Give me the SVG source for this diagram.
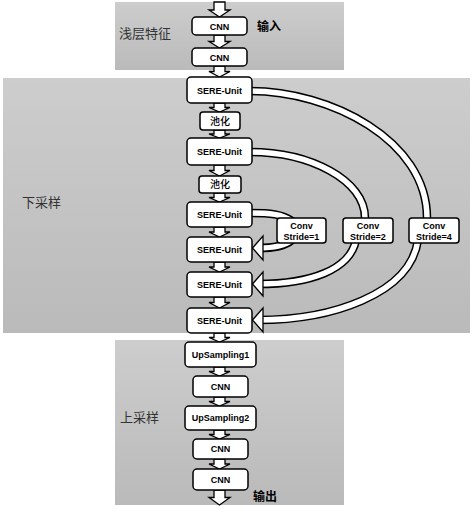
<svg xmlns="http://www.w3.org/2000/svg" xmlns:xlink="http://www.w3.org/1999/xlink" width="474" height="509" viewBox="0 0 474 509">
<style>
.panel{fill:url(#pg);}
.box{fill:#fff;stroke:#000;stroke-width:1.5;}
.t{font-family:"Liberation Sans",Arial,sans-serif;font-weight:bold;font-size:9px;fill:#000;text-anchor:middle;}
.tc{font-family:"Noto Sans CJK SC",sans-serif;font-weight:500;font-size:10px;fill:#000;text-anchor:middle;}
.lab{font-family:"Noto Sans CJK SC",sans-serif;font-size:13px;fill:#333;}
.lb{font-family:"Noto Sans CJK SC",sans-serif;font-size:12px;font-weight:bold;fill:#000;}
.ba{fill:#fff;stroke:#000;stroke-width:1.3;stroke-linejoin:miter;}
.bo{fill:none;stroke:#000;stroke-width:8.5;}
.bi{fill:none;stroke:#fff;stroke-width:5.5;}
.ah{fill:#fff;stroke:#000;stroke-width:1.3;}
</style>
<defs>
<linearGradient id="pg" x1="0" y1="0" x2="0" y2="1">
<stop offset="0" stop-color="#cdcdcd"/>
<stop offset="1" stop-color="#bababa"/>
</linearGradient>
<path id="s4a" d="M250 91 C330 91 427 140 427 218"/>
<path id="s4b" d="M418 240 C410 295 330 320 258 320"/>
<path id="s2a" d="M250 152 C310 152 365 180 365 218"/>
<path id="s2b" d="M356 240 C350 270 310 284 258 284"/>
<path id="s1a" d="M250 213 C270 213 282 214 292 221"/>
<path id="s1b" d="M292 240 C285 246 275 248 258 248"/>
</defs>

<g id="panels">
<rect id="panel-shallow" class="panel" x="115" y="2" width="229" height="68"/>
<rect id="panel-down" class="panel" x="3" y="78" width="467" height="255"/>
<rect id="panel-up" class="panel" x="115" y="340" width="229" height="165"/>
<text class="lab" x="119" y="38">浅层特征</text>
<text class="lab" x="22" y="207">下采样</text>
<text class="lab" x="120" y="422">上采样</text>
<text class="lb" x="257" y="31">输入</text>
<text class="lb" x="253" y="501">输出</text>
</g>

<g id="connectors">
<use xlink:href="#s4a" class="bo"/><use xlink:href="#s4a" class="bi"/>
<use xlink:href="#s4b" class="bo"/><use xlink:href="#s4b" class="bi"/>
<use xlink:href="#s2a" class="bo"/><use xlink:href="#s2a" class="bi"/>
<use xlink:href="#s2b" class="bo"/><use xlink:href="#s2b" class="bi"/>
<use xlink:href="#s1a" class="bo"/><use xlink:href="#s1a" class="bi"/>
<use xlink:href="#s1b" class="bo"/><use xlink:href="#s1b" class="bi"/>
<polygon class="ah" points="252.5,248 263,236 263,260"/>
<polygon class="ah" points="252.5,284 263,272 263,296"/>
<polygon class="ah" points="252.5,320 263,308 263,332"/>
<polygon class="ba" points="214,2 225,2 225,10 230,10 219.5,17 209,10 214,10"/>
<polygon class="ba" points="214,35 225,35 225,41.5 230,41.5 219.5,48 209,41.5 214,41.5"/>
<polygon class="ba" points="214,66 225,66 225,71.5 230,71.5 219.5,77 209,71.5 214,71.5"/>
<polygon class="ba" points="214,103 225,103 225,107.5 230,107.5 219.5,112 209,107.5 214,107.5"/>
<polygon class="ba" points="214,130 225,130 225,134 230,134 219.5,138 209,134 214,134"/>
<polygon class="ba" points="214,165 225,165 225,170.5 230,170.5 219.5,176 209,170.5 214,170.5"/>
<polygon class="ba" points="214,193 225,193 225,197.5 230,197.5 219.5,202 209,197.5 214,197.5"/>
<polygon class="ba" points="214,227 225,227 225,232 230,232 219.5,237 209,232 214,232"/>
<polygon class="ba" points="214,262 225,262 225,267 230,267 219.5,272 209,267 214,267"/>
<polygon class="ba" points="214,297 225,297 225,302.5 230,302.5 219.5,308 209,302.5 214,302.5"/>
<polygon class="ba" points="214,333 225,333 225,337.5 230,337.5 219.5,342 209,337.5 214,337.5"/>
<polygon class="ba" points="214,367 225,367 225,371.5 230,371.5 219.5,376 209,371.5 214,371.5"/>
<polygon class="ba" points="214,397 225,397 225,401.5 230,401.5 219.5,406 209,401.5 214,401.5"/>
<polygon class="ba" points="214,430 225,430 225,434.5 230,434.5 219.5,439 209,434.5 214,434.5"/>
<polygon class="ba" points="214,459 225,459 225,464 230,464 219.5,469 209,464 214,464"/>
<polygon class="ba" points="214,490 225,490 225,497.5 230,497.5 219.5,505 209,497.5 214,497.5"/>
</g>

<g id="cnn1"><rect class="box" x="192" y="17" width="55" height="18" rx="4"/><text class="t" x="219.5" y="29.5">CNN</text></g>
<g id="cnn2"><rect class="box" x="192" y="48" width="55" height="18" rx="4"/><text class="t" x="219.5" y="60.5">CNN</text></g>
<g id="sere1"><rect class="box" x="187" y="77" width="65" height="26" rx="4"/><text class="t" x="219.5" y="93.5">SERE-Unit</text></g>
<g id="pool1"><rect class="box" x="200" y="112" width="40" height="18" rx="3"/><text class="tc" x="220" y="124.5">池化</text></g>
<g id="sere2"><rect class="box" x="187" y="138" width="65" height="27" rx="4"/><text class="t" x="219.5" y="154.5">SERE-Unit</text></g>
<g id="pool2"><rect class="box" x="199" y="176" width="42" height="17" rx="3"/><text class="tc" x="220" y="188">池化</text></g>
<g id="sere3"><rect class="box" x="187" y="202" width="65" height="25" rx="4"/><text class="t" x="219.5" y="217.5">SERE-Unit</text></g>
<g id="sere4"><rect class="box" x="187" y="237" width="65" height="25" rx="4"/><text class="t" x="219.5" y="252.5">SERE-Unit</text></g>
<g id="sere5"><rect class="box" x="187" y="272" width="65" height="25" rx="4"/><text class="t" x="219.5" y="287.5">SERE-Unit</text></g>
<g id="sere6"><rect class="box" x="187" y="308" width="65" height="25" rx="4"/><text class="t" x="219.5" y="323.5">SERE-Unit</text></g>
<g id="conv1"><rect class="box" x="277" y="218" width="49" height="25" rx="3"/><text class="t" x="301.5" y="228.5">Conv</text><text class="t" x="301.5" y="239.5">Stride=1</text></g>
<g id="conv2"><rect class="box" x="343" y="218" width="50" height="25" rx="3"/><text class="t" x="368" y="228.5">Conv</text><text class="t" x="368" y="239.5">Stride=2</text></g>
<g id="conv4"><rect class="box" x="409" y="218" width="50" height="25" rx="3"/><text class="t" x="434" y="228.5">Conv</text><text class="t" x="434" y="239.5">Stride=4</text></g>
<g id="up1"><rect class="box" x="185" y="342" width="71" height="25" rx="4"/><text class="t" x="220.5" y="357.5">UpSampling1</text></g>
<g id="cnn3"><rect class="box" x="193" y="376" width="55" height="21" rx="4"/><text class="t" x="220.5" y="389.5">CNN</text></g>
<g id="up2"><rect class="box" x="185" y="406" width="71" height="24" rx="4"/><text class="t" x="220.5" y="421">UpSampling2</text></g>
<g id="cnn4"><rect class="box" x="193" y="439" width="55" height="20" rx="4"/><text class="t" x="220.5" y="452">CNN</text></g>
<g id="cnn5"><rect class="box" x="193" y="469" width="55" height="21" rx="4"/><text class="t" x="220.5" y="482.5">CNN</text></g>
</svg>
